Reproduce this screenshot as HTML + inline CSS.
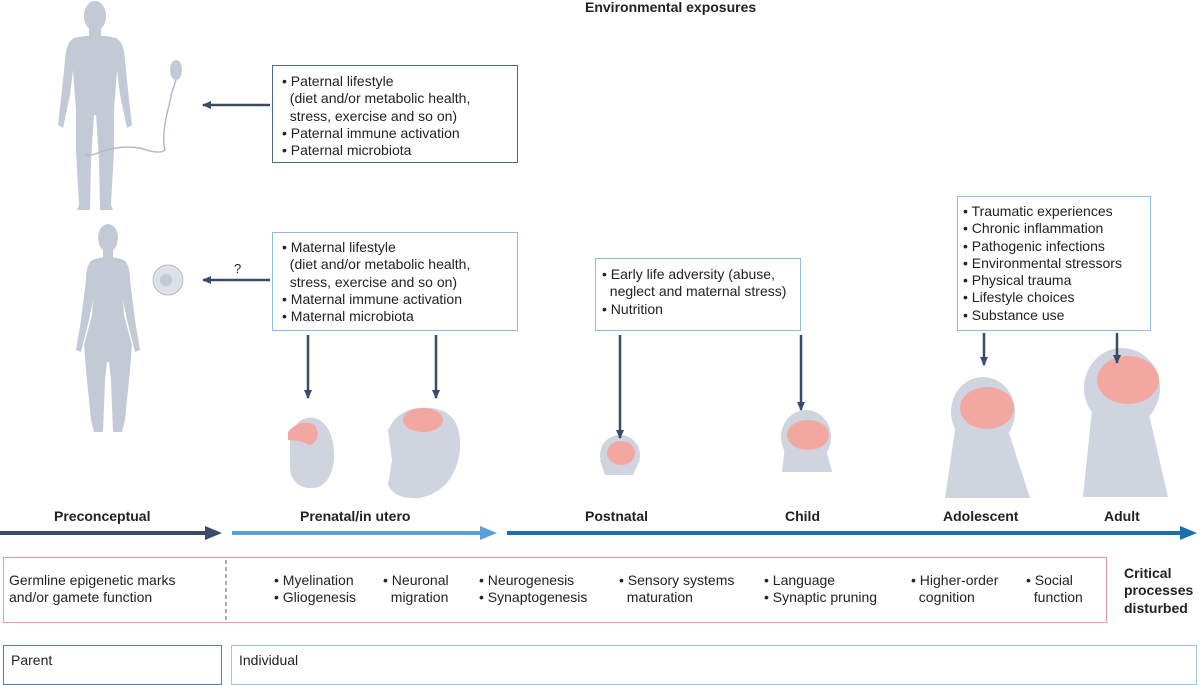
<!DOCTYPE html>
<html><head><meta charset="utf-8"><style>
body{margin:0;width:1200px;height:680px;position:relative;background:#fff;font-family:"Liberation Sans",sans-serif;color:#222;overflow:hidden}
.t{position:absolute;font-size:14px;line-height:17.3px;white-space:nowrap}
.b{font-weight:bold}
.box{position:absolute;box-sizing:border-box;background:#fff}
</style></head><body>
<svg width="1200" height="680" style="position:absolute;left:0;top:0">
<defs>
<marker id="ah" markerWidth="10" markerHeight="10" refX="8" refY="5" orient="auto" markerUnits="userSpaceOnUse"><path d="M0,1 L9,5 L0,9 Z" fill="#3a4a68"/></marker>
</defs>
<g fill="#c4c9d6">
<!-- male -->
<ellipse cx="95" cy="16" rx="11" ry="15"/>
<rect x="89" y="28" width="12" height="12"/>
<path d="M74 38 Q95 33 116 38 Q124 42 125 60 L128 90 L132 125 L127 128 L120 95 L117 70 L114 110 L114 150 L111 205 L113 210 L100 210 L99 160 L96 115 L94 115 L91 160 L90 210 L77 210 L79 205 L76 150 L76 110 L73 70 L70 95 L63 128 L58 125 L62 90 L65 60 Q66 42 74 38 Z"/>
<ellipse cx="176" cy="70" rx="6" ry="10"/>
<!-- female -->
<ellipse cx="108" cy="238" rx="10" ry="14"/>
<rect x="103" y="248" width="10" height="10"/>
<path d="M92 260 Q108 254 124 260 Q130 265 130 280 L135 320 L140 350 L135 352 L127 320 L123 300 L124 315 L132 345 L130 370 L125 420 L122 432 L113 432 L111 380 L109 362 L107 362 L105 380 L103 432 L94 432 L91 420 L86 370 L84 345 L92 315 L93 300 L89 320 L81 352 L76 350 L81 320 L86 280 Q86 265 92 260 Z"/>
<circle cx="168" cy="280" r="15" fill="#dde0e8" stroke="#b7bcc9"/>
<circle cx="166" cy="280" r="6"/>
<!-- embryos -->
<path d="M290 440 Q295 415 315 418 Q335 425 334 460 Q330 490 308 488 Q288 485 290 460 Z" fill="#d0d4de"/>
<path d="M388 430 Q400 405 430 408 Q462 410 460 450 Q455 490 420 498 Q395 500 388 485 L392 460 Z" fill="#d0d4de"/>
</g>
<g stroke="#b4bac8" stroke-width="1.5" fill="none">
<path d="M176 80 L172 92 Q168 110 166 118 Q162 140 165 150 Q160 155 140 148 Q120 145 100 152 Q92 156 85 155"/>
</g>
<g fill="#d0d4de">
<!-- heads -->
<ellipse cx="620" cy="455" rx="20" ry="20"/>
<path d="M600 460 L640 460 L633 475 L605 475 Z"/>
<ellipse cx="806" cy="437" rx="25" ry="27"/>
<path d="M785 445 L825 445 L832 472 L782 472 Z"/>
<ellipse cx="983" cy="412" rx="32" ry="35"/>
<path d="M955 430 L1008 430 L1030 498 L945 498 Z"/>
<ellipse cx="1122" cy="388" rx="38" ry="40"/>
<path d="M1092 410 L1148 410 L1168 497 L1083 497 Z"/>
</g>
<g fill="#f2a7a0">
<path d="M288 432 Q300 418 315 425 Q322 440 310 445 Q300 440 288 440 Z"/>
<ellipse cx="423" cy="420" rx="20" ry="12"/>
<ellipse cx="621" cy="453" rx="14" ry="12"/>
<ellipse cx="808" cy="435" rx="21" ry="15"/>
<ellipse cx="987" cy="408" rx="27" ry="21"/>
<ellipse cx="1128" cy="380" rx="31" ry="24"/>
</g>
<g stroke="#3a4a68" stroke-width="2.5" fill="none">
<line x1="270" y1="105" x2="203" y2="105" marker-end="url(#ah)"/>
<line x1="270" y1="280" x2="203" y2="280" marker-end="url(#ah)"/>
<line x1="308" y1="335" x2="308" y2="398" marker-end="url(#ah)"/>
<line x1="436" y1="335" x2="436" y2="398" marker-end="url(#ah)"/>
<line x1="620" y1="335" x2="620" y2="438" marker-end="url(#ah)"/>
<line x1="801" y1="335" x2="801" y2="410" marker-end="url(#ah)"/>
<line x1="984" y1="333" x2="984" y2="365" marker-end="url(#ah)"/>
<line x1="1117" y1="333" x2="1117" y2="363" marker-end="url(#ah)"/>
</g>
<line x1="0" y1="533" x2="210" y2="533" stroke="#3a4a68" stroke-width="4"/>
<path d="M205 526 L222 533 L205 540 Z" fill="#3a4a68"/>
<line x1="232" y1="533" x2="485" y2="533" stroke="#5aa0d8" stroke-width="4"/>
<path d="M480 526 L497 533 L480 540 Z" fill="#5aa0d8"/>
<line x1="507" y1="533" x2="1185" y2="533" stroke="#1a6fae" stroke-width="4"/>
<path d="M1180 526 L1197 533 L1180 540 Z" fill="#1a6fae"/>
<line x1="226" y1="560" x2="226" y2="620" stroke="#555" stroke-dasharray="4,3"/>
</svg>

<div class="t b" style="left:585px;top:-1px;font-size:14px">Environmental exposures</div>

<div class="box" style="left:272px;top:65px;width:246px;height:98px;border:1.3px solid #4a6890"></div>
<div class="t" style="left:282px;top:73px">• Paternal lifestyle<br>&nbsp;&nbsp;(diet and/or metabolic health,<br>&nbsp;&nbsp;stress, exercise and so on)<br>• Paternal immune activation<br>• Paternal microbiota</div>

<div class="box" style="left:272px;top:232px;width:246px;height:99px;border:1.3px solid #8cbde6"></div>
<div class="t" style="left:282px;top:239px">• Maternal lifestyle<br>&nbsp;&nbsp;(diet and/or metabolic health,<br>&nbsp;&nbsp;stress, exercise and so on)<br>• Maternal immune activation<br>• Maternal microbiota</div>
<div class="t" style="left:234px;top:260px;font-size:13px">?</div>

<div class="box" style="left:595px;top:258px;width:206px;height:73px;border:1.3px solid #8cbde6"></div>
<div class="t" style="left:602px;top:266px">• Early life adversity (abuse,<br>&nbsp;&nbsp;neglect and maternal stress)<br>• Nutrition</div>

<div class="box" style="left:957px;top:196px;width:194px;height:135px;border:1.3px solid #8cbde6"></div>
<div class="t" style="left:963px;top:203px">• Traumatic experiences<br>• Chronic inflammation<br>• Pathogenic infections<br>• Environmental stressors<br>• Physical trauma<br>• Lifestyle choices<br>• Substance use</div>

<div class="t b" style="left:54px;top:508px">Preconceptual</div>
<div class="t b" style="left:300px;top:508px">Prenatal/in utero</div>
<div class="t b" style="left:585px;top:508px">Postnatal</div>
<div class="t b" style="left:785px;top:508px">Child</div>
<div class="t b" style="left:943px;top:508px">Adolescent</div>
<div class="t b" style="left:1104px;top:508px">Adult</div>

<div class="box" style="left:3px;top:557px;width:1104px;height:66px;border:1.3px solid #ef9a98;background:none"></div>
<div class="t" style="left:9px;top:572px">Germline epigenetic marks<br>and/or gamete function</div>
<div class="t" style="left:274px;top:572px">• Myelination<br>• Gliogenesis</div>
<div class="t" style="left:383px;top:572px">• Neuronal<br>&nbsp;&nbsp;migration</div>
<div class="t" style="left:479px;top:572px">• Neurogenesis<br>• Synaptogenesis</div>
<div class="t" style="left:619px;top:572px">• Sensory systems<br>&nbsp;&nbsp;maturation</div>
<div class="t" style="left:764px;top:572px">• Language<br>• Synaptic pruning</div>
<div class="t" style="left:911px;top:572px">• Higher-order<br>&nbsp;&nbsp;cognition</div>
<div class="t" style="left:1026px;top:572px">• Social<br>&nbsp;&nbsp;function</div>
<div class="t b" style="left:1124px;top:565px">Critical<br>processes<br>disturbed</div>

<div class="box" style="left:3px;top:645px;width:219px;height:40px;border:1.3px solid #4a80b8"></div>
<div class="t" style="left:11px;top:652px">Parent</div>
<div class="box" style="left:231px;top:645px;width:966px;height:40px;border:1.3px solid #9cc6e8"></div>
<div class="t" style="left:239px;top:652px">Individual</div>
</body></html>
